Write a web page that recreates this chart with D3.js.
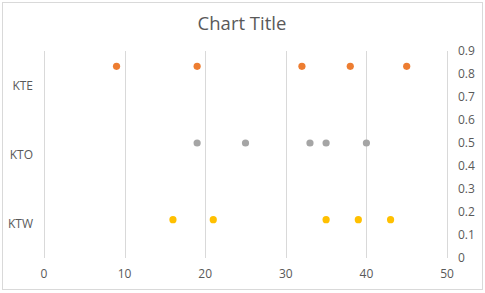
<!DOCTYPE html>
<html>
<head>
<meta charset="utf-8">
<script src="https://cdn.jsdelivr.net/npm/d3@7"></script>
<style>
  body { margin: 0; background: #fff; }
  text { font-family: "Open Sans", "Liberation Sans", sans-serif; fill: #595959; }
</style>
</head>
<body>
<div id="plot"></div>
<script>
// data
const categories = ["KTE", "KTO", "KTW"];
const seriesY = [5/6, 3/6, 1/6];
const seriesColors = ["#ED7D31", "#A5A5A5", "#FFC000"];
const kteValues = [9, 19, 32, 38, 45];
const ktoValues = [19, 25, 33, 35, 40];
const ktwValues = [16, 21, 35, 39, 43];
const xTicks = [0, 10, 20, 30, 40, 50];
const yTicks = [0, 0.1, 0.2, 0.3, 0.4, 0.5, 0.6, 0.7, 0.8, 0.9];

const allValues = [kteValues, ktoValues, ktwValues];

const W = 485, H = 293;
const margin = {top: 51, right: 38, bottom: 35, left: 44};

const svg = d3.select("#plot").append("svg")
    .attr("width", W)
    .attr("height", H);

// chart border
svg.append("rect")
    .attr("x", 2.5).attr("y", 2.5)
    .attr("width", 480).attr("height", 287)
    .attr("fill", "#fff")
    .attr("stroke", "#d9d9d9");

svg.append("text")
    .attr("x", 242).attr("y", 30)
    .attr("text-anchor", "middle")
    .attr("font-size", 18.5)
    .text("Chart Title");

const x = d3.scaleLinear().domain([0, 50]).range([margin.left, W - margin.right]);
const y = d3.scaleLinear().domain([0, 0.9]).range([H - margin.bottom, margin.top]);
const band = d3.scaleBand().domain(categories.slice().reverse())
    .range([H - margin.bottom, margin.top]);

// vertical gridlines
svg.append("g")
    .selectAll("line")
    .data(xTicks)
    .enter()
    .append("line")
    .attr("x1", d => Math.round(x(d)) + 0.5)
    .attr("x2", d => Math.round(x(d)) + 0.5)
    .attr("y1", y(0.9))
    .attr("y2", y(0))
    .attr("stroke", "#d9d9d9");

// x tick labels
svg.append("g")
    .selectAll("text")
    .data(xTicks)
    .enter()
    .append("text")
    .attr("x", d => x(d))
    .attr("y", 278)
    .attr("text-anchor", "middle")
    .attr("font-size", 12)
    .text(d => d);

// right axis labels
svg.append("g")
    .selectAll("text")
    .data(yTicks)
    .enter()
    .append("text")
    .attr("x", 458)
    .attr("y", d => y(d) + 4)
    .attr("font-size", 12)
    .text(d => d3.format("~g")(d));

// category labels
svg.append("g")
    .selectAll("text")
    .data(categories)
    .enter()
    .append("text")
    .attr("x", 33)
    .attr("y", d => band(d) + band.bandwidth() / 2 + 4)
    .attr("text-anchor", "end")
    .attr("font-size", 12)
    .text(d => d);

// dots
allValues.forEach((vals, i) => {
    svg.append("g")
        .selectAll("circle")
        .data(vals)
        .enter()
        .append("circle")
        .attr("cx", d => x(d))
        .attr("cy", y(seriesY[i]))
        .attr("r", 3.6)
        .attr("fill", seriesColors[i]);
});
</script>
</body>
</html>
